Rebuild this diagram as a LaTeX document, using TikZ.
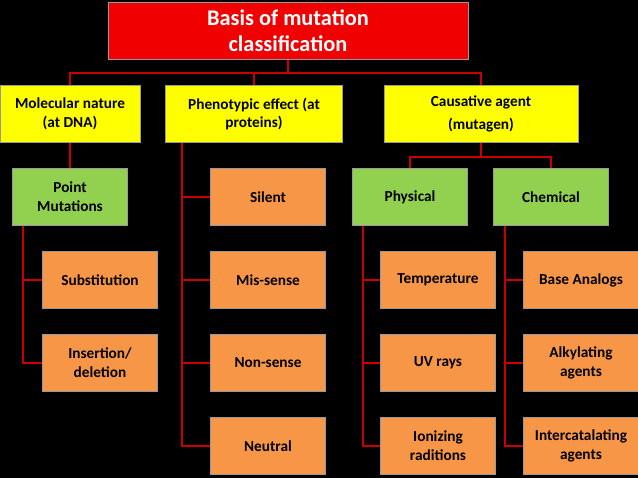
\documentclass[tikz,border=0pt]{standalone}
\usepackage{fontspec}
\setmainfont{Carlito}
\usetikzlibrary{positioning}
\definecolor{boxred}{RGB}{240,0,0}
\definecolor{boxyellow}{RGB}{255,255,0}
\definecolor{boxgreen}{RGB}{146,208,80}
\definecolor{boxorange}{RGB}{247,150,70}
\definecolor{linered}{RGB}{200,0,0}
\tikzset{
  box/.style = {draw = black!40, line width = 0.6pt, align = center, font = \bfseries\fontsize{13}{16}\selectfont, inner sep = 1pt},
  leaf/.style = {box, fill = boxorange, minimum width = 98pt, minimum height = 48pt},
  group/.style = {box, fill = boxgreen, minimum width = 98pt, minimum height = 49pt},
  head/.style = {box, fill = boxyellow, minimum height = 49pt},
  link/.style = {linered, line width = 2pt}
}
\begin{document}
\begin{tikzpicture}[x = 0.85pt, y = -0.85pt]
\fill[black] (0,0) rectangle (638,478);
\useasboundingbox (0,0) rectangle (638,478);

\node[box, fill = boxred, text = white, font = \bfseries\fontsize{19}{22}\selectfont, minimum width = 306pt, minimum height = 49pt] (root) at (288,31) {Basis of mutation\\classification};

\node[head, minimum width = 119pt] (mol) at (70,114) {Molecular nature\\(at DNA)};
\node[head, minimum width = 151pt] (phe) at (254,114) {Phenotypic effect (at\\proteins)};
\node[head, minimum width = 165pt, align = center] (cau) at (481,114) {Causative agent\\[4pt](mutagen)};

\node[group] (point) at (70,197) {Point\\Mutations};
\node[group] (phys) at (410,197) {Physical};
\node[group] (chem) at (551,197) {Chemical};

\node[leaf] (silent) at (268,197) {Silent};
\node[leaf] (miss) at (268,280) {Mis-sense};
\node[leaf] (non) at (268,363) {Non-sense};
\node[leaf] (neut) at (268,446) {Neutral};

\node[leaf] (subst) at (100,280) {Substitution};
\node[leaf] (indel) at (100,363) {Insertion/\\deletion};

\node[leaf] (temp) at (438,280) {Temperature};
\node[leaf] (uv) at (438,363) {UV rays};
\node[leaf] (ion) at (438,446) {Ionizing\\raditions};

\node[leaf] (base) at (581,280) {Base Analogs};
\node[leaf] (alk) at (581,363) {Alkylating\\agents};
\node[leaf] (inter) at (581,446) {Intercatalating\\agents};

% branches
\coordinate (top) at (288,73);
\draw[link] (root.south) -- (top);
\draw[link] (mol.north) |- (top) -| (cau.north);
\draw[link] (phe.north) -- (phe.north |- top);
\draw[link] (mol) -- (point);
\coordinate (cj) at (481,157);
\draw[link] (cau.south) -- (cj);
\draw[link] (phys.north) |- (cj) -| (chem.north);

\foreach \t in {subst, indel}
  \draw[link] (23,226) |- (\t.west);
\foreach \t in {silent, miss, non, neut}
  \draw[link] (182,143) |- (\t.west);
\foreach \t in {temp, uv, ion}
  \draw[link] (363,226) |- (\t.west);
\foreach \t in {base, alk, inter}
  \draw[link] (505,226) |- (\t.west);
\end{tikzpicture}
\end{document}
